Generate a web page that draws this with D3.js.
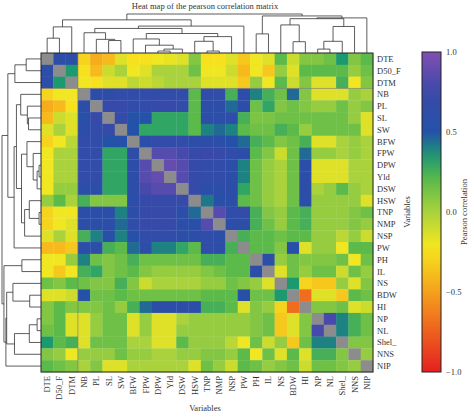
<!DOCTYPE html>
<html><head><meta charset="utf-8">
<script src="https://cdn.jsdelivr.net/npm/d3@7"></script>
<style>body{margin:0;background:#fff}text{font-family:"Liberation Serif","DejaVu Serif",serif}</style>
</head><body><svg id="c" width="474" height="417"></svg>
<script>
const variables = ["DTE","D50_F","DTM","NB","PL","SL","SW","BFW","FPW","DPW","Yld","DSW","HSW","TNP","NMP","NSP","PW","PH","IL","NS","BDW","HI","NP","NL","Shel_","NNS","NIP"];
const corr = [
[1,.6,.6,-.3,-.45,-.4,-.15,-.25,-.25,-.2,-.18,-.15,.1,-.25,-.25,-.15,-.35,-.2,-.15,.2,-.1,.1,.1,.15,.35,.1,.2],
[.6,1,.35,-.25,-.4,-.1,0,-.2,-.15,0,0,0,.15,-.2,-.2,-.1,-.4,-.2,-.35,.05,-.15,.2,.2,.2,.2,.05,.15],
[.6,.35,1,-.2,-.25,-.15,-.15,-.05,-.1,-.05,0,0,0,-.15,-.15,-.15,-.35,.05,-.2,.2,-.1,.1,-.15,-.15,.25,-.2,.1],
[-.3,-.2,-.2,1,.6,.6,.65,.65,.65,.65,.65,.65,.2,.65,.65,.25,.6,.4,.25,.15,.45,.1,-.15,-.15,-.15,.05,0],
[-.45,-.4,-.25,.6,1,.7,.7,.65,.65,.7,.7,.65,.2,.6,.6,.45,.6,.15,.3,.1,.15,.1,.05,.05,.15,.05,.1],
[-.4,-.1,-.15,.55,.7,1,.7,.5,.5,.3,.3,.3,.2,.6,.6,.6,.25,.12,.12,.15,.15,.15,.15,.15,.15,.05,-.15],
[-.15,0,-.15,.6,.65,.7,1,.5,.3,.3,.3,.3,.2,.4,.45,.4,.2,.15,.15,.25,.2,.05,.15,.15,.15,.15,-.15],
[-.3,-.2,-.05,.65,.65,.5,.5,1,.6,.65,.65,.65,.6,.6,.6,.5,.45,.25,.2,.1,.15,.25,-.15,-.15,0,.05,0],
[-.2,0,0,.65,.65,.3,.3,.6,1,.85,.85,.8,.7,.75,.7,.65,.6,.2,.1,-.1,.15,.45,.05,.05,0,.05,0],
[-.2,0,0,.65,.65,.3,.3,.6,.85,1,.9,.85,.7,.65,.65,.6,.4,.15,.05,0,.15,.6,-.15,-.15,-.15,0,0],
[-.2,0,0,.65,.65,.3,.3,.6,.85,.9,1,.85,.7,.65,.65,.6,.4,.15,.05,0,.15,.6,-.15,-.15,-.15,0,0],
[-.2,.05,.05,.6,.6,.3,.3,.6,.8,.85,.85,1,.7,.6,.6,.6,.3,.15,.05,0,.15,.6,0,.05,.2,.05,0],
[.05,.2,0,.25,.1,.1,.1,.6,.7,.7,.7,.7,1,.42,.55,.6,.2,.15,.05,0,.15,.6,.05,.05,.05,.05,-.15],
[-.3,-.2,-.2,.6,.6,.6,.4,.6,.7,.7,.7,.6,.45,1,.85,.65,.65,.25,.1,.05,.2,.25,.05,.05,.05,.1,.15],
[-.3,-.2,-.15,.6,.6,.6,.45,.65,.7,.7,.7,.6,.55,.85,1,.6,.6,.25,.15,.05,.2,.25,.05,.05,.05,.1,.05],
[-.15,0,-.15,.25,.4,.55,.4,.55,.65,.65,.65,.6,.6,.65,.6,1,.25,.2,.2,.15,.2,.2,.05,.05,-.05,.05,-.1],
[-.4,-.4,-.35,.6,.6,.25,.2,.45,.6,.4,.4,.3,.2,.65,.6,.25,1,.2,.2,.1,.55,-.15,.05,.05,-.2,.2,.2],
[-.2,-.2,.05,.4,.15,.1,.15,.25,.15,.15,.15,.15,.15,.25,.25,.2,.2,1,.6,.05,.15,.1,.1,.1,.15,-.2,.15],
[-.2,-.35,-.2,.25,.3,.1,.15,.2,.1,.05,.05,.05,.05,.1,.15,.2,.2,.6,1,-.15,.15,.05,.15,.15,-.1,.15,.05],
[.15,.1,.2,.15,.1,.1,.25,.1,-.1,0,0,0,0,.05,.05,.15,.1,.05,-.15,1,.35,-.3,-.35,-.35,.05,-.15,.1],
[-.15,-.15,-.1,.5,.15,.15,.2,.15,.15,.15,.15,.15,.15,.2,.2,.2,.55,.15,.15,.35,1,-.7,-.15,-.15,-.35,.2,.15],
[.1,.2,.1,.1,.1,.15,.05,.25,.45,.6,.6,.6,.6,.25,.25,.2,-.15,.1,.05,-.3,-.7,1,.1,.1,.15,-.15,-.1],
[.1,.2,-.15,-.15,.05,.15,.15,-.15,.05,-.15,-.15,0,.05,.05,.05,.05,.05,.1,.15,-.35,-.15,.1,1,.8,.4,.25,.15],
[.15,.2,-.15,-.15,.05,.15,.15,-.15,.05,-.15,-.15,.05,.05,.05,.05,.05,.05,.1,.15,-.35,-.15,.1,.8,1,.4,.25,.15],
[.35,.2,.25,-.15,.15,.15,.15,0,0,-.15,-.15,.2,.05,.05,.05,-.05,-.2,.15,-.1,.05,-.35,.15,.4,.4,1,.1,.1],
[.1,.05,-.2,.05,.05,.05,.15,.05,.05,0,0,.05,.05,.1,.1,.05,.2,-.2,.15,-.15,.2,-.15,.25,.25,.1,1,.05],
[.2,.15,.1,0,.1,-.15,-.15,0,0,0,0,0,-.15,.15,.05,-.1,.2,.15,.05,.1,.15,-.1,.15,.15,.1,.05,1]];
const colorTicks = [1.0, 0.5, 0.0, -0.5, -1.0];
const tree = {h:1.0,c:[
  {h:.85,c:[
    {h:.67,c:[{h:.38,c:[0,1]},2]},
    {h:.69,c:[
      {h:.63,c:[
        {h:.52,c:[3,{h:.35,c:[4,{h:.32,c:[5,6]}]}]},
        {h:.5,c:[
          {h:.36,c:[7,{h:.2,c:[8,{h:.1,c:[{h:.05,c:[9,10]},11]}]}]},
          {h:.42,c:[{h:.3,c:[12,{h:.05,c:[13,14]}]},15]}]}]},
      16]}]},
  {h:.95,c:[
    {h:.49,c:[17,18]},
    {h:.9,c:[
      {h:.88,c:[
        {h:.72,c:[19,{h:.29,c:[20,21]}]},
        {h:.68,c:[{h:.3,c:[{h:.1,c:[22,23]},24]},25]}]},
      26]}]}]};

const svg = d3.select("#c");
const L=41,R=373,T=53,B=372;
const x = d3.scaleBand().domain(d3.range(variables.length)).range([L,R]);
const y = d3.scaleBand().domain(d3.range(variables.length)).range([T,B]);
const stops = [[-1,"#e5201f"],[-0.5,"#f5a01c"],[-0.22,"#f7e81e"],[0,"#a9d23c"],[0.2,"#5cba4a"],[0.35,"#1b9a70"],[0.5,"#2452a8"],[0.75,"#3a49a9"],[1,"#8050b2"]];
const color = d3.scaleLinear().domain(stops.map(s=>s[0])).range(stops.map(s=>s[1])).clamp(true);

const g = svg.append("g");
corr.forEach((row,i)=>row.forEach((v,j)=>{
  g.append("rect").attr("x",x(j)).attr("y",y(i)).attr("width",x.bandwidth()+0.3).attr("height",y.bandwidth()+0.3)
   .attr("fill", i===j ? "#8c8c8c" : color(v));
}));
// cluster separators
svg.append("line").attr("x1",L).attr("x2",R).attr("y1",y(3)).attr("y2",y(3)).attr("stroke","#777").attr("stroke-width",0.6);
svg.append("line").attr("y1",T).attr("y2",B).attr("x1",x(3)).attr("x2",x(3)).attr("stroke","#777").attr("stroke-width",0.6);
svg.append("rect").attr("x",L).attr("y",T).attr("width",R-L).attr("height",B-T).attr("fill","none").attr("stroke","#222").attr("stroke-width",1);

// dendrograms
const hs = d3.scaleLinear().domain([0,1]).range([0,39]);
function layout(n, pos){
  if(typeof n==="number") return {p:pos(n), h:0};
  const k = n.c.map(ch=>layout(ch,pos));
  return {p:(k[0].p+k[1].p)/2, h:n.h, k};
}
function draw(node, horiz){
  if(!node.k) return;
  node.k.forEach(ch=>{
    if(horiz){ // top
      svg.append("path").attr("d",`M${ch.p},${T-hs(ch.h)}V${T-hs(node.h)}`).attr("stroke","#333").attr("fill","none").attr("stroke-width",0.8);
    } else {
      svg.append("path").attr("d",`M${L-hs(ch.h)},${ch.p}H${L-hs(node.h)}`).attr("stroke","#333").attr("fill","none").attr("stroke-width",0.8);
    }
    draw(ch,horiz);
  });
  if(horiz) svg.append("path").attr("d",`M${node.k[0].p},${T-hs(node.h)}H${node.k[1].p}`).attr("stroke","#333").attr("stroke-width",0.8);
  else svg.append("path").attr("d",`M${L-hs(node.h)},${node.k[0].p}V${node.k[1].p}`).attr("stroke","#333").attr("stroke-width",0.8);
}
draw(layout(tree, i=>x(i)+x.bandwidth()/2), true);
draw(layout(tree, i=>y(i)+y.bandwidth()/2), false);

// labels
variables.forEach((v,i)=>{
  svg.append("text").attr("x",R+4).attr("y",y(i)+y.bandwidth()/2).attr("dy","0.35em").attr("font-size",8.5).attr("fill","#333").text(v);
  svg.append("text").attr("transform",`translate(${x(i)+x.bandwidth()/2},${B+4}) rotate(-90)`).attr("text-anchor","end").attr("dy","0.35em").attr("font-size",8.5).attr("fill","#333").text(v);
});
svg.append("text").attr("x",205).attr("y",9).attr("text-anchor","middle").attr("font-size",8.5).attr("fill","#333").text("Heat map of the pearson correlation matrix");
svg.append("text").attr("x",205).attr("y",411).attr("text-anchor","middle").attr("font-size",8.5).attr("fill","#333").text("Variables");
svg.append("text").attr("transform","translate(410,212) rotate(-90)").attr("text-anchor","middle").attr("font-size",8.5).attr("fill","#333").text("Variables");

// colorbar
const cb = d3.scaleLinear().domain([1,-1]).range([52,372]);
const grad = svg.append("defs").append("linearGradient").attr("id","gr").attr("x1",0).attr("x2",0).attr("y1",0).attr("y2",1);
d3.range(0,1.0001,0.05).forEach(t=>grad.append("stop").attr("offset",t).attr("stop-color",color(1-2*t)));
svg.append("rect").attr("x",422).attr("y",52).attr("width",19).attr("height",320).attr("fill","url(#gr)").attr("stroke","#222").attr("stroke-width",1);
colorTicks.forEach(t=>{
  svg.append("text").attr("x",446).attr("y",cb(t)).attr("dy","0.35em").attr("font-size",8.5).attr("fill","#333").text(t<0?"\u2212"+Math.abs(t).toFixed(1):t.toFixed(1));
});
svg.append("text").attr("transform","translate(467,212) rotate(-90)").attr("text-anchor","middle").attr("font-size",8.5).attr("fill","#333").text("Pearson correlation");
</script></body></html>
